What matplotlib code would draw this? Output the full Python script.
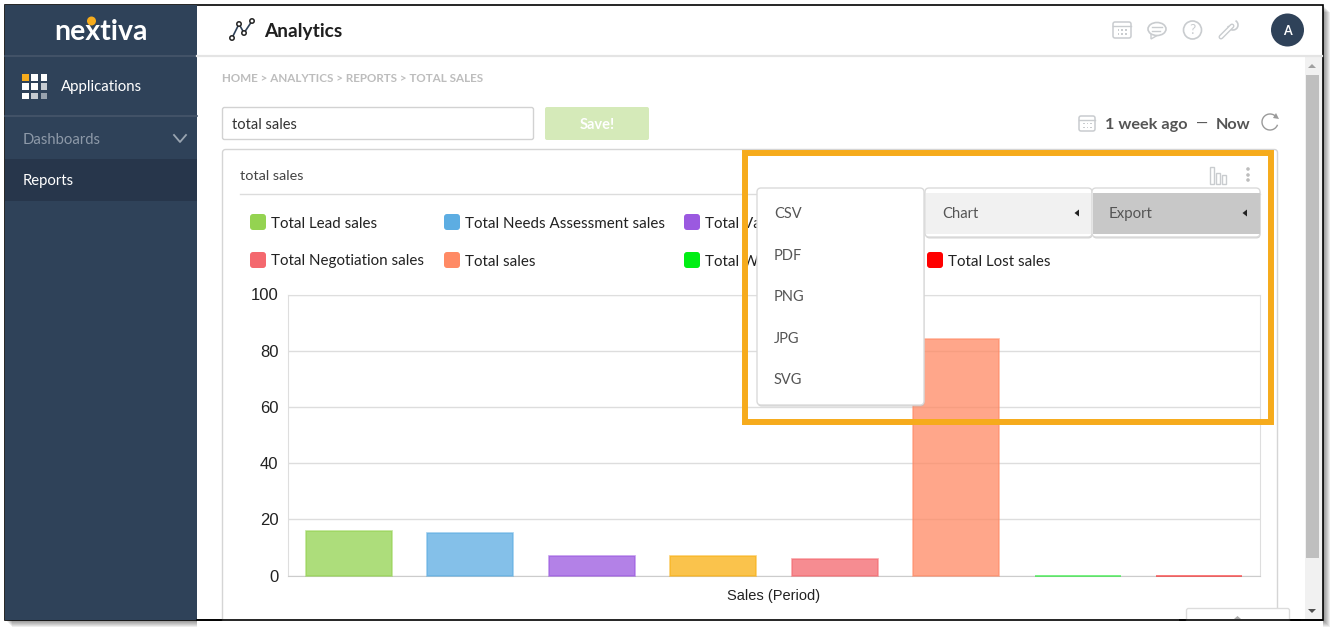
import matplotlib
matplotlib.use('Agg')
import matplotlib.pyplot as plt
from matplotlib.colors import to_rgba
from matplotlib.patches import Rectangle, FancyBboxPatch, Circle, Ellipse, Arc, Polygon

W, H = 1335, 634

# chart data
categories = ['Total Lead sales', 'Total Needs Assessment sales', 'Total Va',
              'Total Proposal sales', 'Total Negotiation sales', 'Total sales',
              'Total W', 'Total Lost sales']
sales_values = [16, 15, 7, 7, 6, 84, 0, 0]
bar_colors = ['#94d351', '#5dade2', '#9b59e0', '#f9b114', '#f4686e', '#ff8a65', '#00ee14', '#ff0000']
y_ticks = [0, 20, 40, 60, 80, 100]
x_title = 'Sales (Period)'
export_options = ['CSV', 'PDF', 'PNG', 'JPG', 'SVG']
breadcrumb = 'HOME > ANALYTICS > REPORTS > TOTAL SALES'

NAVY = '#2f4259'
ORANGE = '#f6ab1c'
ICON = '#c9cccf'

plt.rcParams['font.family'] = ['Lato', 'DejaVu Sans']
fig = plt.figure(figsize=(W / 100, H / 100), dpi=100, facecolor='white')


def px_axes(left, top, right, bottom, z):
    return fig.add_axes([left / W, 1 - bottom / H, (right - left) / W, (bottom - top) / H], zorder=z)


# background layer, everything placed in pixels
bg = px_axes(0, 0, W, H, 0)
bg.set_xlim(0, W)
bg.set_ylim(H, 0)
bg.axis('off')

# soft shadow of the screenshot
for i in range(7, 0, -1):
    bg.add_patch(Rectangle((5 + i, 5 + i), 1318, 615, fc='black', ec='none', alpha=0.07))
bg.add_patch(Rectangle((4.5, 4.5), 1318, 615, fc='white', ec='black', lw=1.2))

# sidebar
bg.add_patch(Rectangle((5, 5), 192, 615, fc=NAVY, ec='none'))
bg.add_patch(Rectangle((5, 159), 192, 42, fc='#27364b', ec='none'))
for y in [55.5, 116]:
    bg.plot([5, 197], [y, y], color='#46566b', lw=1.2)
bg.text(101, 32, 'nextiva', color='white', fontsize=20.5, fontweight='bold', ha='center', va='center')
bg.add_patch(Circle((91.5, 21), 4.5, fc=ORANGE, ec='none', zorder=4))
grid_cols = [ORANGE, 'white', 'white', 'white', 'white', '#c6cbd1', 'white', '#c6cbd1', '#98a2ae']
for i, c in enumerate(grid_cols):
    bg.add_patch(Rectangle((22 + 9.3 * (i % 3), 74 + 9.3 * (i // 3)), 6.6, 6.6, fc=c, ec='none'))
bg.text(61, 87.5, 'Applications', color='white', fontsize=10.8, va='center')
bg.text(23, 139.5, 'Dashboards', color='#8d99a8', fontsize=10.7, va='center')
bg.plot([174, 180, 186], [135, 142, 135], color='#9aa5b1', lw=1.3)
bg.text(23, 181, 'Reports', color='white', fontsize=10.7, va='center')

# header
bg.plot([197, 1322], [56, 56], color='#e4e4e4', lw=1.6)
bg.plot([232, 239, 244, 252], [38, 24, 33, 21], color=NAVY, lw=1.2)
for x, y in [(232, 38), (239, 24), (244, 33), (252, 21)]:
    bg.add_patch(Circle((x, y), 2.2, fc='white', ec='#222222', lw=1.1, zorder=4))
bg.text(264, 31.5, 'Analytics', color='#1f1f1f', fontsize=13.8, fontweight='bold', va='center')


def calendar(x, y, w, h):
    bg.add_patch(FancyBboxPatch((x, y), w, h, boxstyle='round,pad=0,rounding_size=2', fc='white', ec=ICON, lw=1.1))
    bg.plot([x, x + w], [y + 4, y + 4], color=ICON, lw=1)
    for i in range(3):
        for j in range(2):
            bg.add_patch(Rectangle((x + w * (0.25 + 0.22 * i), y + h * (0.45 + 0.25 * j)), 1.6, 1.6, fc=ICON, ec='none'))


calendar(1113, 22, 18, 16)
calendar(1079, 116, 16, 15)
bg.add_patch(Polygon([(1151, 33), (1151, 39), (1158, 35)], fc='white', ec=ICON, lw=1))
bg.add_patch(Ellipse((1157, 29), 18, 13, fc='white', ec=ICON, lw=1.2))
bg.plot([1152, 1162], [27, 27], color=ICON, lw=1)
bg.plot([1152, 1160], [31, 31], color=ICON, lw=1)
bg.add_patch(Circle((1192.5, 30), 9, fc='white', ec=ICON, lw=1.2))
bg.text(1192.5, 30.5, '?', color=ICON, fontsize=10, ha='center', va='center')
bg.plot([1221, 1232], [37, 26], color=ICON, lw=3.6, solid_capstyle='round')
bg.plot([1221, 1232], [37, 26], color='white', lw=1.6, solid_capstyle='round')
bg.add_patch(Arc((1233, 25), 10, 10, theta1=-60, theta2=170, color=ICON, lw=1.2))

bg.add_patch(Circle((1287.5, 30), 16.5, fc=NAVY, ec='none'))
bg.text(1287.5, 31, 'A', color='white', fontsize=9, fontweight='bold', ha='center', va='center')

# breadcrumb and the filter row
bg.text(222, 79, breadcrumb, color='#bdbdbd', fontsize=8.4, fontweight='bold', va='center')
bg.add_patch(FancyBboxPatch((222.5, 107.5), 311, 32, boxstyle='round,pad=0,rounding_size=2', fc='white', ec='#d2d2d2', lw=1))
bg.text(232, 125, 'total sales', color='#333333', fontsize=10.5, va='center')
bg.add_patch(FancyBboxPatch((545, 107), 104, 33, boxstyle='round,pad=0,rounding_size=2', fc='#d5eab9', ec='none'))
bg.text(597, 125, 'Save!', color='white', fontsize=10.5, fontweight='bold', ha='center', va='center')
bg.text(1105, 125, '1 week ago', color='#555555', fontsize=11.7, fontweight='bold', va='center')
bg.text(1196, 124, '—', color='#555555', fontsize=11, ha='left', va='center')
bg.text(1216, 125, 'Now', color='#555555', fontsize=11.7, fontweight='bold', va='center')
bg.add_patch(Arc((1270, 122), 16, 16, theta1=20, theta2=320, color='#9a9a9a', lw=1))
bg.add_patch(Polygon([(1276, 113), (1279, 119), (1273, 118)], fc='#9a9a9a', ec='none'))

# scrollbar
bg.add_patch(Rectangle((1305, 57), 17, 562, fc='#f1f1f1', ec='none'))
bg.add_patch(Rectangle((1306, 75), 13, 483, fc='#bfbfbf', ec='none'))
bg.add_patch(Polygon([(1308, 68), (1316, 68), (1312, 64)], fc='#a0a0a0', ec='none'))
bg.add_patch(Polygon([(1308, 609), (1316, 609), (1312, 613)], fc='#505050', ec='none'))

# chart card
bg.add_patch(FancyBboxPatch((222.5, 149.5), 1055, 480, boxstyle='round,pad=0,rounding_size=3', fc='white', ec='#d5d5d5', lw=1, clip_on=True))
bg.add_patch(Rectangle((197, 620.5), 1126, 14, fc='white', ec='none', zorder=3))
bg.plot([197, 1322], [619.5, 619.5], color='black', lw=1.2, zorder=3)
bg.text(240, 176, 'total sales', color='#444444', fontsize=10.4, va='center')
bg.plot([240, 1260], [193.5, 193.5], color='#dcdcdc', lw=1)

# legend, laid out in two rows like the web page does
legend_rows = [(0, 250, 222), (1, 444, 222), (2, 684, 222), (4, 250, 260), (5, 444, 260), (6, 684, 260), (7, 927, 260)]
for idx, x, y in legend_rows:
    bg.add_patch(FancyBboxPatch((x, y - 8), 16, 16, boxstyle='round,pad=0,rounding_size=3', fc=bar_colors[idx], ec='none'))
    bg.text(x + 21, y + 1.5, categories[idx], color='#222222', fontsize=10.9, va='center')

# the actual bar chart
ax = px_axes(288, 294.5, 1260, 575.5, 1)
ax.patch.set_alpha(0)
x_pos = list(range(len(categories)))
ax.bar(x_pos, sales_values, width=0.71, color=[to_rgba(c, 0.76) for c in bar_colors],
       edgecolor=[to_rgba(c, 0.6) for c in bar_colors], linewidth=1.2, zorder=3, clip_on=False)
ax.set_xlim(-0.5, 7.5)
ax.set_ylim(0, 100)
ax.set_yticks(y_ticks)
ax.set_xticks([])
ax.grid(axis='y', color='#dddddd', lw=1, zorder=0)
ax.set_axisbelow(True)
for s in ax.spines.values():
    s.set_color('#dedede')
ax.spines['bottom'].set_color('#cccccc')
ax.tick_params(axis='y', length=0, pad=7, labelsize=12, labelcolor='#222222')
for lab in ax.get_yticklabels():
    lab.set_fontfamily('Liberation Sans')
ax.set_xlabel(x_title, fontsize=10.5, family='Liberation Sans', color='#222222', labelpad=10)

# overlay: menus and highlight frame
top = px_axes(0, 0, W, H, 2)
top.set_xlim(0, W)
top.set_ylim(H, 0)
top.axis('off')


def menu_box(x, y, w, h):
    top.add_patch(FancyBboxPatch((x + 0.5, y + 1.5), w, h, boxstyle='round,pad=0,rounding_size=4', fc='#b8b8b8', ec='none', alpha=0.6))
    top.add_patch(FancyBboxPatch((x, y), w, h, boxstyle='round,pad=0,rounding_size=4', fc='white', ec='#dadada', lw=1))


menu_box(757, 188, 167, 217)
for opt, y in zip(export_options, [214, 256, 297, 339, 380]):
    top.text(774, y, opt, color='#555555', fontsize=10.5, va='center')

menu_box(925, 188, 167, 49)
top.add_patch(Rectangle((925.5, 193), 166, 41, fc='#f1f1f1', ec='none'))
top.text(942, 214, 'Chart', color='#555555', fontsize=10.6, va='center')
top.add_patch(Polygon([(1079, 209.5), (1079, 216.5), (1074.5, 213)], fc='#222222', ec='none'))

menu_box(1092, 188, 168, 49)
top.add_patch(Rectangle((1092.5, 193), 167, 41, fc='#c8c8c8', ec='none'))
top.text(1109, 214, 'Export', color='#555555', fontsize=10.8, va='center')
top.add_patch(Polygon([(1247, 209.5), (1247, 216.5), (1242.5, 213)], fc='#222222', ec='none'))

# chart type and kebab icons
for x, y0, w in [(1210, 167, 4), (1216, 173, 4), (1222, 175, 3.5)]:
    top.add_patch(Rectangle((x, y0), w, 184 - y0, fc='white', ec=ICON, lw=1))
for y in [169, 175, 180]:
    top.add_patch(Circle((1248, y), 1.8, fc='#bdbdbd', ec='none'))

# highlight frame
top.add_patch(Rectangle((745, 153), 526, 268.5, fc='none', ec=ORANGE, lw=4.3))

# partly hidden widget at the bottom
top.add_patch(FancyBboxPatch((1186.5, 608.5), 103, 14, boxstyle='round,pad=0,rounding_size=2', fc='white', ec='#dcdcdc', lw=1))
top.add_patch(Polygon([(1234, 619), (1241, 619), (1237.5, 616)], fc='#aaaaaa', ec='none'))
top.add_patch(Rectangle((1180, 620.5), 120, 14, fc='white', ec='none'))
top.plot([1180, 1300], [619.5, 619.5], color='black', lw=1.2)

fig.savefig('out.png', dpi=100)
